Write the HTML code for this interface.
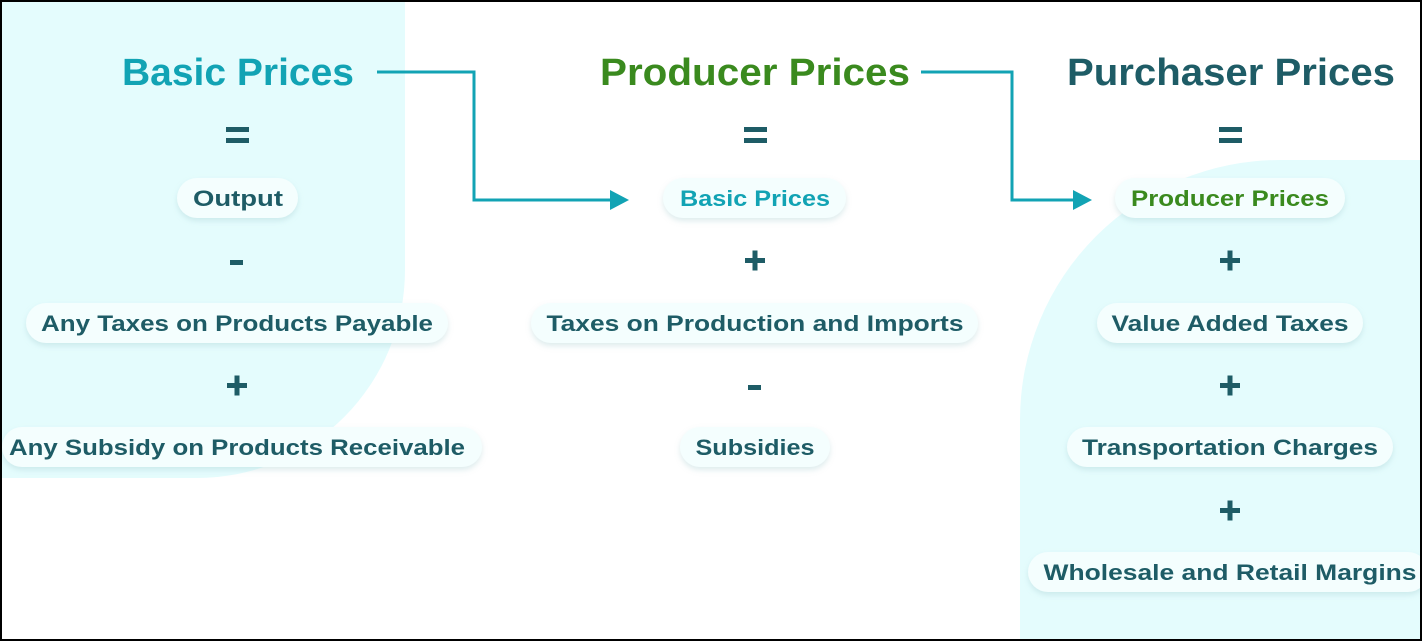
<!DOCTYPE html>
<html><head><meta charset="utf-8"><style>
html,body{margin:0;padding:0;background:#fff;}
svg{display:block;}
text{font-family:"Liberation Sans",sans-serif;font-weight:bold;}
</style></head><body>
<svg width="1422" height="641" viewBox="0 0 1422 641" xmlns="http://www.w3.org/2000/svg">
<defs>
<filter id="sh" x="-10%" y="-30%" width="120%" height="180%"><feDropShadow dx="0" dy="3" stdDeviation="3" flood-color="#9fc9cc" flood-opacity="0.35"/></filter>
</defs>
<rect width="1422" height="641" fill="#fff"/>
<path d="M0 0 H405 V270 A208 208 0 0 1 197 478 H0 Z" fill="#e4fcfd"/>
<path d="M1020 641 V420 A260 260 0 0 1 1280 160 H1422 V641 Z" fill="#e4fcfd"/>
<g fill="#f4fefe" filter="url(#sh)">
<rect x="177" y="178" width="121" height="40" rx="20"/>
<rect x="26" y="303" width="422" height="40" rx="20"/>
<rect x="2" y="427" width="480" height="40" rx="20"/>
<rect x="663" y="178" width="183" height="40" rx="20"/>
<rect x="531" y="303" width="447" height="40" rx="20"/>
<rect x="680" y="427" width="150" height="40" rx="20"/>
<rect x="1115" y="178" width="230" height="40" rx="20"/>
<rect x="1097" y="303" width="266" height="40" rx="20"/>
<rect x="1067" y="427" width="326" height="40" rx="20"/>
<rect x="1028" y="552" width="400" height="40" rx="20"/>
</g>
<g fill="none" stroke="#12a3b4" stroke-width="3">
<path d="M377 72 H474 V200 H612"/>
<path d="M921 72 H1012 V200 H1076"/>
</g>
<path d="M610 190 L629 200 L610 210 Z" fill="#12a3b4"/>
<path d="M1073 190 L1092 200 L1073 210 Z" fill="#12a3b4"/>
<g font-size="38" text-anchor="middle">
<text x="238" y="85" fill="#12a3b4" textLength="232" lengthAdjust="spacingAndGlyphs">Basic Prices</text>
<text x="755" y="85" fill="#3a8a1e" textLength="310" lengthAdjust="spacingAndGlyphs">Producer Prices</text>
<text x="1231" y="85" fill="#1e5c66" textLength="328" lengthAdjust="spacingAndGlyphs">Purchaser Prices</text>
</g>
<g fill="#1e5c66">
<rect x="226" y="127" width="23" height="5"/><rect x="226" y="138" width="23" height="5"/>
<rect x="744" y="127" width="23" height="5"/><rect x="744" y="138" width="23" height="5"/>
<rect x="1219" y="127" width="23" height="5"/><rect x="1219" y="138" width="23" height="5"/>
<rect x="230" y="260" width="13" height="5"/>
<rect x="748" y="385" width="13" height="5"/>
<rect x="227" y="383" width="20" height="5"/><rect x="234.5" y="375.5" width="5" height="20"/>
<rect x="745" y="258" width="20" height="5"/><rect x="752.5" y="250.5" width="5" height="20"/>
<rect x="1220" y="258" width="20" height="5"/><rect x="1227.5" y="250.5" width="5" height="20"/>
<rect x="1220" y="383" width="20" height="5"/><rect x="1227.5" y="375.5" width="5" height="20"/>
<rect x="1220" y="508" width="20" height="5"/><rect x="1227.5" y="500.5" width="5" height="20"/>
</g>
<g font-size="22" text-anchor="middle" fill="#1e5c66">
<text x="238" y="206" textLength="90" lengthAdjust="spacingAndGlyphs">Output</text>
<text x="237" y="331" textLength="392" lengthAdjust="spacingAndGlyphs">Any Taxes on Products Payable</text>
<text x="237" y="455" textLength="456" lengthAdjust="spacingAndGlyphs">Any Subsidy on Products Receivable</text>
<text x="755" y="206" fill="#12a3b4" textLength="150" lengthAdjust="spacingAndGlyphs">Basic Prices</text>
<text x="755" y="331" textLength="417" lengthAdjust="spacingAndGlyphs">Taxes on Production and Imports</text>
<text x="755" y="455" textLength="119" lengthAdjust="spacingAndGlyphs">Subsidies</text>
<text x="1230" y="206" fill="#3a8a1e" textLength="198" lengthAdjust="spacingAndGlyphs">Producer Prices</text>
<text x="1230" y="331" textLength="237" lengthAdjust="spacingAndGlyphs">Value Added Taxes</text>
<text x="1230" y="455" textLength="296" lengthAdjust="spacingAndGlyphs">Transportation Charges</text>
<text x="1230" y="580" textLength="373" lengthAdjust="spacingAndGlyphs">Wholesale and Retail Margins</text>
</g>
<rect x="1" y="1" width="1420" height="639" fill="none" stroke="#000" stroke-width="2"/>
</svg>
</body></html>
